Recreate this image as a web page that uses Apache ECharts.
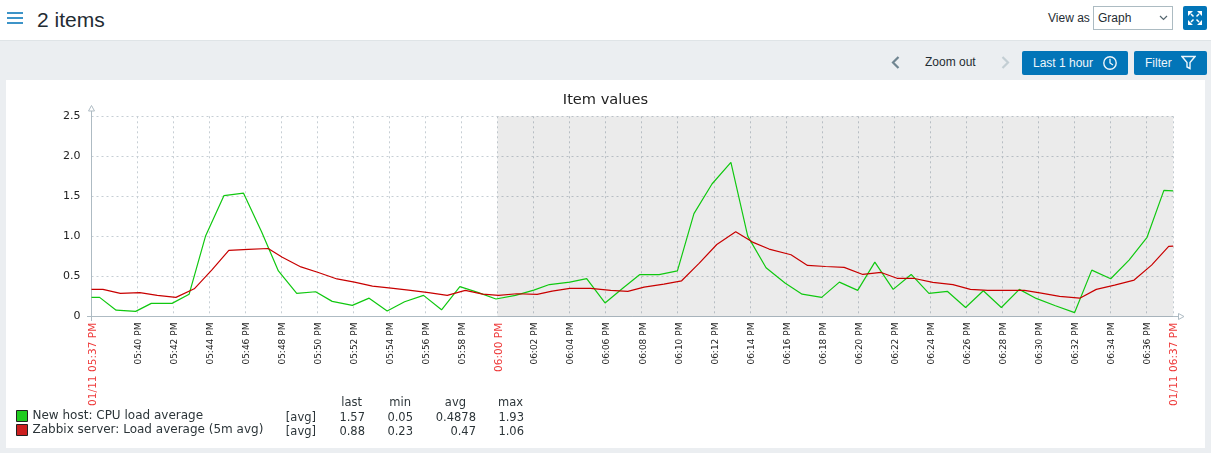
<!DOCTYPE html>
<html>
<head>
<meta charset="utf-8">
<script src="https://cdn.jsdelivr.net/npm/echarts@6/dist/echarts.min.js"></script>
<style>
    html, body { margin: 0; padding: 0; width: 1211px; height: 453px; overflow: hidden; background: #ebeef1; font-family: "Liberation Sans", Arial, sans-serif; color: #1f2c33; }
    .abs { position: absolute; }
    #topbar { left: 0; top: 0; width: 1211px; height: 40px; background: #fff; border-bottom: 1px solid #dfe4e7; }
    #title { left: 37px; top: 7px; font-size: 21px; line-height: 25px; }
    .btn { background: #0275b8; color: #eef6fb; border-radius: 2px; font-size: 12px; line-height: 24px; height: 24px; top: 51px; }
    #chart { left: 6px; top: 80px; width: 1199px; height: 368px; background: #fff; }
</style>
</head>
<body>

<div id="topbar" class="abs"></div>
<svg class="abs" style="left:7px;top:12px" width="16" height="13">
    <path d="M0 1h16M0 6h16M0 11h16" stroke="#3d94c8" stroke-width="2"/>
</svg>
<div id="title" class="abs">2 items</div>
<div class="abs" style="left:1048px;top:11px;font-size:12px;line-height:14px">View as</div>
<div class="abs" style="left:1093px;top:6px;width:78px;height:22px;border:1px solid #acbbc2;background:#fff;font-size:12px;line-height:22px;text-indent:4px">Graph</div>
<svg class="abs" style="left:1159px;top:15px" width="9" height="6"><path d="M1 1l3.500 3.500L8 1" fill="none" stroke="#55666f" stroke-width="1.200"/></svg>
<div class="abs" style="left:1183px;top:6px;width:24px;height:24px;background:#0275b8;border-radius:2px"></div>
<svg class="abs" style="left:1187px;top:10px" width="16" height="16">
    <path d="M1 1h5l-5 5zM15 1v5l-5-5zM1 15v-5l5 5zM15 15h-5l5-5z" fill="#fff"/>
    <path d="M4 4l2.500 2.500M12 4l-2.500 2.500M4 12l2.500-2.500M12 12l-2.500-2.500" stroke="#fff" stroke-width="1.500"/>
</svg>

<svg class="abs" style="left:890px;top:55px" width="11" height="15"><path d="M8.500 2L3 7.500l5.500 5.500" fill="none" stroke="#6f8591" stroke-width="2.200"/></svg>
<div class="abs" style="left:925px;top:55px;font-size:12px;line-height:15px">Zoom out</div>
<svg class="abs" style="left:1000px;top:55px" width="11" height="15"><path d="M2.500 2L8 7.500 2.500 13" fill="none" stroke="#c3ced4" stroke-width="2.200"/></svg>
<div class="abs btn" style="left:1022px;width:106px;text-indent:11px">Last 1 hour</div>
<svg class="abs" style="left:1102px;top:55px" width="16" height="16"><circle cx="8" cy="8" r="6.200" fill="none" stroke="#eef6fb" stroke-width="1.400"/><path d="M8 3.800V8l3 2" fill="none" stroke="#eef6fb" stroke-width="1.300"/></svg>
<div class="abs btn" style="left:1134px;width:73px;text-indent:11px">Filter</div>
<svg class="abs" style="left:1181px;top:55px" width="15" height="15"><path d="M1 1.500h13L9 7.500v6l-3-1.500V7.500z" fill="none" stroke="#eef6fb" stroke-width="1.400"/></svg>

<div id="chart" class="abs"></div>

<script>
var tickTimes = ['17:40:00', '17:42:00', '17:44:00', '17:46:00', '17:48:00', '17:50:00', '17:52:00', '17:54:00', '17:56:00', '17:58:00',
    '18:00:00', '18:02:00', '18:04:00', '18:06:00', '18:08:00', '18:10:00', '18:12:00', '18:14:00', '18:16:00', '18:18:00',
    '18:20:00', '18:22:00', '18:24:00', '18:26:00', '18:28:00', '18:30:00', '18:32:00', '18:34:00', '18:36:00'];
var tickLabels = ['05:40 PM', '05:42 PM', '05:44 PM', '05:46 PM', '05:48 PM', '05:50 PM', '05:52 PM', '05:54 PM', '05:56 PM', '05:58 PM',
    '06:00 PM', '06:02 PM', '06:04 PM', '06:06 PM', '06:08 PM', '06:10 PM', '06:12 PM', '06:14 PM', '06:16 PM', '06:18 PM',
    '06:20 PM', '06:22 PM', '06:24 PM', '06:26 PM', '06:28 PM', '06:30 PM', '06:32 PM', '06:34 PM', '06:36 PM'];
var startTime = '17:37:29', endTime = '18:37:29', shadeFrom = '18:00:00';
var startLabel = '01/11 05:37 PM', endLabel = '01/11 06:37 PM', noonLabel = '06:00 PM';

var greenTimes = ['17:37:29', '17:37:56', '17:38:51', '17:39:56', '17:40:48', '17:41:57', '17:42:54', '17:43:49', '17:44:50', '17:45:55',
    '17:46:55', '17:47:51', '17:48:52', '17:49:55', '17:50:50', '17:51:57', '17:52:53', '17:53:53', '17:54:51', '17:55:54',
    '17:56:54', '17:57:55', '17:58:57', '17:59:55', '18:01:00', '18:02:01', '18:02:53', '18:04:01', '18:04:57', '18:05:58',
    '18:06:56', '18:07:54', '18:08:58', '18:09:59', '18:10:54', '18:11:54', '18:12:57', '18:13:53', '18:14:54', '18:15:57',
    '18:16:54', '18:17:59', '18:18:58', '18:19:59', '18:20:56', '18:21:57', '18:22:57', '18:23:56', '18:24:58', '18:25:58',
    '18:26:57', '18:27:57', '18:28:57', '18:29:53', '18:30:57', '18:32:01', '18:32:58', '18:34:01', '18:35:02', '18:36:02',
    '18:36:58', '18:37:29'];
var greenValues = [0.24, 0.24, 0.08, 0.065, 0.165, 0.165, 0.28, 1.01, 1.51, 1.54,
    1.06, 0.57, 0.29, 0.31, 0.19, 0.14, 0.23, 0.07, 0.185, 0.265,
    0.085, 0.375, 0.30, 0.22, 0.265, 0.33, 0.40, 0.43, 0.475, 0.17,
    0.35, 0.525, 0.525, 0.57, 1.285, 1.655, 1.925, 1.005, 0.61, 0.42,
    0.28, 0.24, 0.43, 0.327, 0.68, 0.34, 0.526, 0.29, 0.314, 0.114,
    0.322, 0.114, 0.34, 0.227, 0.135, 0.05, 0.58, 0.472, 0.705, 0.99,
    1.575, 1.57];

var redTimes = ['17:37:29', '17:38:07', '17:39:05', '17:40:10', '17:41:08', '17:42:10', '17:43:11', '17:44:09', '17:45:06', '17:46:11',
    '17:47:17', '17:48:04', '17:49:06', '17:50:04', '17:51:06', '17:52:04', '17:53:04', '17:54:06', '17:55:04', '17:56:11',
    '17:57:13', '17:58:13', '17:59:11', '18:00:04', '18:01:05', '18:02:12', '18:03:02', '18:04:01', '18:05:10', '18:06:17',
    '18:07:14', '18:08:08', '18:09:14', '18:10:13', '18:11:11', '18:12:10', '18:13:13', '18:14:09', '18:15:04', '18:16:17',
    '18:17:12', '18:18:12', '18:19:14', '18:20:16', '18:21:17', '18:22:12', '18:23:08', '18:24:09', '18:25:16', '18:26:14',
    '18:27:12', '18:28:08', '18:29:14', '18:30:10', '18:31:11', '18:32:18', '18:33:13', '18:34:14', '18:35:19', '18:36:17',
    '18:37:14', '18:37:29'];
var redValues = [0.34, 0.34, 0.29, 0.30, 0.265, 0.24, 0.347, 0.58, 0.826, 0.84,
    0.85, 0.74, 0.62, 0.55, 0.47, 0.43, 0.38, 0.355, 0.33, 0.30,
    0.265, 0.327, 0.28, 0.264, 0.285, 0.277, 0.318, 0.352, 0.352, 0.327,
    0.314, 0.368, 0.406, 0.447, 0.664, 0.90, 1.06, 0.93, 0.843, 0.772,
    0.639, 0.625, 0.614, 0.526, 0.551, 0.476, 0.476, 0.427, 0.40, 0.34,
    0.327, 0.327, 0.327, 0.293, 0.252, 0.23, 0.34, 0.393, 0.456, 0.643,
    0.876, 0.88];

var seriesNames = ['New host: CPU load average', 'Zabbix server: Load average (5m avg)'];
var statHeaders = ['last', 'min', 'avg', 'max'];
var greenStats = ['1.57', '0.05', '0.4878', '1.93'];
var redStats = ['0.88', '0.23', '0.47', '1.06'];

init();

function toSeconds(t) {
    var p = t.split(':');
    return +p[0] * 3600 + +p[1] * 60 + +p[2];
}

function toPoints(times, values) {
    return times.map(function (t, i) {
        return [toSeconds(t), values[i]];
    });
}

function statTexts() {
    var font = '11.5px "DejaVu Sans"';
    var headerRight = [356, 405, 460, 517];
    var valueRight = [359, 407, 470, 518];
    var items = [];
    function add(text, x, y) {
        items.push({
            type: 'text', x: x, y: y,
            style: { text: text, font: font, fill: '#2c3539', align: 'right', verticalAlign: 'middle' }
        });
    }
    add('[avg]', 310, 336);
    add('[avg]', 310, 350);
    statHeaders.forEach(function (h, i) {
        add(h, headerRight[i], 321);
        add(greenStats[i], valueRight[i], 336);
        add(redStats[i], valueRight[i], 350);
    });
    return items;
}

function init() {
    var myChart = echarts.init(document.getElementById('chart'));
    var gridRight = 1167.2, gridBottom = 236.6, gridLeft = 85.5, gridTop = 36.3;
    var labelMap = {};
    tickTimes.forEach(function (t, i) {
        labelMap[toSeconds(t)] = tickLabels[i];
    });
    labelMap[toSeconds(startTime)] = startLabel;
    labelMap[toSeconds(endTime)] = endLabel;
    var tickValues = [toSeconds(startTime)].concat(tickTimes.map(toSeconds), [toSeconds(endTime)]);
    var axisColor = '#aebbc3', gridColor = '#c6ced4';

    var option = {
        animation: false,
        textStyle: { fontFamily: '"DejaVu Sans"' },
        title: {
            text: 'Item values', left: 'center', top: 8,
            textStyle: { fontSize: 14.6, fontWeight: 'normal', color: '#222', fontFamily: '"DejaVu Sans"' }
        },
        grid: { left: gridLeft, top: gridTop, width: gridRight - gridLeft, height: gridBottom - gridTop },
        legend: {
            orient: 'vertical', left: 5, top: 325, itemWidth: 11, itemHeight: 11, itemGap: 2,
            icon: 'rect', data: seriesNames,
            itemStyle: { borderColor: '#222', borderWidth: 1 },
            textStyle: { fontSize: 12, color: '#2c3539', fontFamily: '"DejaVu Sans"', padding: [2, 0, 0, 0] }
        },
        xAxis: {
            type: 'value', min: toSeconds(startTime), max: toSeconds(endTime),
            axisLine: { onZero: false, lineStyle: { color: axisColor, width: 1 } },
            axisTick: { show: false, customValues: tickValues },
            splitLine: { show: true, lineStyle: { color: gridColor, type: [2, 3], width: 1 } },
            axisLabel: {
                customValues: tickValues, rotate: 90, margin: 6, hideOverlap: false,
                showMinLabel: true, showMaxLabel: true,
                formatter: function (v) {
                    var s = labelMap[v];
                    if (s === startLabel || s === endLabel || s === noonLabel) {
                        return '{red|' + s + '}';
                    }
                    return '{blk|' + s + '}';
                },
                rich: {
                    red: { fontSize: 10.6, color: '#ee3a3a', fontFamily: '"DejaVu Sans"', padding: [3, 0, 0, 0] },
                    blk: { fontSize: 9, color: '#222', fontFamily: '"DejaVu Sans"', padding: [3, 0, 0, 0] }
                }
            }
        },
        yAxis: {
            type: 'value', min: 0, max: 2.5, interval: 0.5,
            axisLine: { show: true, lineStyle: { color: axisColor, width: 1 } },
            axisTick: { show: false },
            splitLine: { show: true, lineStyle: { color: gridColor, type: [2, 3], width: 1 } },
            axisLabel: {
                margin: 11, fontSize: 11, color: '#222', fontFamily: '"DejaVu Sans"', padding: [2, 0, 0, 0],
                formatter: function (v) { return v === 0 ? '0' : v.toFixed(1); }
            }
        },
        series: [{
            name: seriesNames[0], type: 'line', showSymbol: false, smooth: false,
            data: toPoints(greenTimes, greenValues),
            itemStyle: { color: '#1fcc1f' },
            lineStyle: { color: '#10c810', width: 1.2 },
            markArea: {
                silent: true,
                itemStyle: { color: 'rgba(0,0,0,0.08)' },
                data: [[{ xAxis: toSeconds(shadeFrom) }, { xAxis: toSeconds(endTime) }]]
            }
        }, {
            name: seriesNames[1], type: 'line', showSymbol: false, smooth: false,
            data: toPoints(redTimes, redValues),
            itemStyle: { color: '#cc1f1f' },
            lineStyle: { color: '#c80000', width: 1.2 }
        }],
        graphic: statTexts().map(function (t) {
            t.y += 2;
            return t;
        }).concat([
            // hollow arrow heads and short overshoots of the two axis lines
            { type: 'polygon', shape: { points: [[85.500, 25.500], [82.500, 31], [88.500, 31]] }, style: { fill: '#fff', stroke: axisColor } },
            { type: 'polygon', shape: { points: [[1178, 236.500], [1172.500, 233.500], [1172.500, 239.500]] }, style: { fill: '#fff', stroke: axisColor } },
            { type: 'line', shape: { x1: 85.500, y1: 31, x2: 85.500, y2: 241 }, style: { stroke: axisColor } },
            { type: 'line', shape: { x1: 81, y1: 236.500, x2: 1172.500, y2: 236.500 }, style: { stroke: axisColor } }
        ])
    };

    myChart.setOption(option);
}
</script>
</body>
</html>
